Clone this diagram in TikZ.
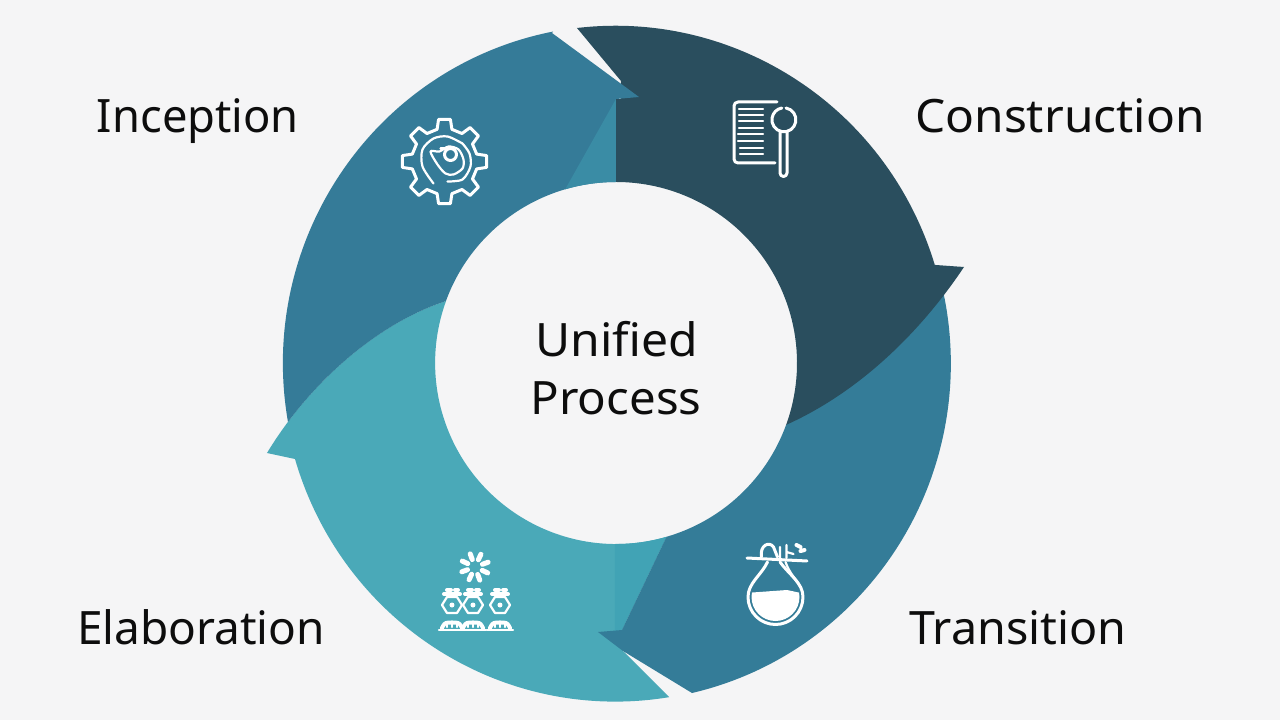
\documentclass[tikz,border=0pt]{standalone}
\usepackage{fontspec}
\setmainfont{Noto Sans}
\usetikzlibrary{calc}
\definecolor{bgc}{HTML}{F5F5F6}
\definecolor{incep}{HTML}{357B98}
\definecolor{incepl}{HTML}{3A8CA5}
\definecolor{constr}{HTML}{2A4E5E}
\definecolor{elab}{HTML}{4AA9B8}
\definecolor{elabl}{HTML}{41A3B5}
\definecolor{trans}{HTML}{347C98}
\tikzset{
  lab/.style={font=\fontsize{46}{46}\selectfont, text=black!95, anchor=base, inner sep=0pt, transform shape},
  ico/.style={draw=white, line width=3pt, line cap=round, line join=round},
  icothin/.style={draw=white, line width=2.2pt, line cap=round, line join=round},
  icofat/.style={draw=white, line width=4pt, line cap=round, line join=round}
}
\begin{document}
\begin{tikzpicture}[x=1pt,y=1pt]
\useasboundingbox (-616,-356) rectangle (664,364);
\fill[bgc] (-616,-356) rectangle (664,364);
% Elaboration
\fill[elab] (-170.1,62.9) .. controls (-238,41) and (-306,-18) .. (-349,-89) -- (-321,-95)
  arc[start angle=196.4,end angle=279.3,x radius=334pt,y radius=338pt]
  -- (7,-287) -- (6,-266) -- (50.6,-172.8)
  arc[start angle=286.2,end angle=160,radius=181pt] -- cycle;
\fill[elabl] (-1,-180) arc[start angle=269.7,end angle=286.2,radius=181pt] -- (6,-266) -- (-1,-268) -- cycle;
% Transition
\fill[trans] (-18,-268) -- (7,-287) -- (76,-329)
  arc[start angle=283,end angle=375,x radius=334pt,y radius=338pt]
  -- (170.1,-60.9) arc[start angle=-20,end angle=-73.8,radius=181pt]
  -- (6,-266) -- cycle;
% Construction
\fill[constr] (-39,336)
  arc[start angle=96.6,end angle=17,x radius=334pt,y radius=338pt]
  -- (348,97)
  .. controls (310,40) and (250,-25) .. (170.1,-60.9)
  arc[start angle=-20,end angle=90,radius=181pt]
  -- (0,265) -- (5,265) -- (5,283) -- cycle;
% Inception
\fill[incep] (-64,331) -- (23,267) -- (0,265) -- (0,182)
  arc[start angle=90,end angle=160,radius=181pt]
  .. controls (-227.65,44.15) and (-285.6,-1.2) .. (-328,-58)
  arc[start angle=190,end angle=101,x radius=334pt,y radius=338pt] -- cycle;
\fill[incepl] (0,182) arc[start angle=90,end angle=106.3,radius=181pt] -- (0,265) -- cycle;
% Labels
\node[lab,xscale=.985] (inception) at (-418,231) {Inception};
\node[lab,xscale=1.04] (construction) at (444,231) {Construction};
\node[lab] (elaboration) at (-415,-280) {Elaboration};
\node[lab,xscale=1.014] (transition) at (402,-280) {Transition};
\node[lab,xscale=1.045] (unified) at (1,7) {Unified};
\node[lab,xscale=1.03] (process) at (0,-51) {Process};
% Gear icon
\begin{scope}[shift={(-171.5,202.5)}]
  \draw[ico] (-13:33pt) \foreach \a in {0,45,...,315}{ -- (\a-13:33pt) -- (\a-8:42.5pt) -- (\a+8:42.5pt) -- (\a+13:33pt) } -- cycle;
  \draw[icothin] plot[smooth] coordinates {(-11,-22) (-22,-5) (-22,12) (-11,23) (3,25) (18,18)};
  \draw[icothin] plot[smooth] coordinates {(3,-20) (18,-18) (26,-5) (25,8) (18,18)};
  \draw[icothin] plot[smooth cycle] coordinates {(-14,10) (-7,-3) (1,-12) (9,-13) (18,-7) (19,2) (14,12) (4,15) (-5,10)};
  \draw[ico] (6,7) circle[radius=6pt];
  \draw[icothin] (-4,13) -- (4,13);
\end{scope}
% Document and magnifier icon
\begin{scope}
  \draw[ico] (161,262) -- (122,262) arc[start angle=90,end angle=180,radius=4pt] -- (118,205) arc[start angle=180,end angle=270,radius=4pt] -- (159,201);
  \foreach \y/\a in {255/123,249/123,243/123,236/123,230/122,223/122,216/124,210/124}
    \draw[icothin] (\a,\y) -- (147,\y);
  \draw[ico] (170,256) arc[start angle=80,end angle=-260,radius=12pt];
  \draw[ico] (164,232) -- (164,191) arc[start angle=180,end angle=360,radius=3.5pt] -- (171,232);
\end{scope}
% Elaboration icon
\begin{scope}[shift={(-141,-203)}]
  \foreach \a in {20,65,...,335}
    \draw[draw=white, line width=5pt, line cap=round] (\a:8pt) -- (\a:14pt);
\end{scope}
\begin{scope}[shift={(-143,-241)}]
  \foreach \x in {-21,0,27}{
    \draw[icothin] (\x-10,0) -- (\x-5,8) -- (\x+5,8) -- (\x+10,0) -- (\x+5,-8) -- (\x-5,-8) -- cycle;
    \fill[white] (\x,0) circle[radius=2.5pt];
    \draw[icofat] (\x-8,11) -- (\x+8,11);
    \draw[icofat] (\x-5,15) -- (\x-1,15) (\x+3,15) -- (\x+6,15);
    \draw[icofat] plot[smooth] coordinates {(\x-10,-23) (\x-6,-18) (\x+6,-18) (\x+10,-23)};
    \draw[icothin] (\x-5,-22) -- (\x-5,-18) (\x,-22) -- (\x,-18) (\x+5,-22) -- (\x+5,-18);
    \draw[icothin] (\x-13,-25) -- (\x+13,-25);
  }
\end{scope}
% Flask icon
\begin{scope}[shift={(159.5,-233)}]
  \begin{scope}
    \clip (0,0) circle[radius=24pt];
    \fill[white] (-30,4) -- (11.5,7) -- (30,3) -- (30,-30) -- (-30,-30) -- cycle;
  \end{scope}
  \draw[ico] (-8,35) .. controls (-14,22) and (-27.5,14) .. (-27.5,0)
     arc[start angle=180,end angle=360,radius=27.5pt]
     .. controls (27.5,14) and (14,22) .. (4.5,35);
  \draw[icothin] (10,35) .. controls (14,24) and (20,18) .. (25,10);
  \draw[ico] (-28.5,39) -- (31.5,36);
  \draw[ico] (-14,40) .. controls (-16,52) and (-6,56) .. (-2,50) -- (2,40);
  \draw[icothin] (4.5,50) -- (4.5,39) (11,52) -- (11,39) (11,45) -- (18,43);
  \draw[icofat] (21,52) -- (25,50) (25,46) -- (29,47);
\end{scope}
\end{tikzpicture}
\end{document}
